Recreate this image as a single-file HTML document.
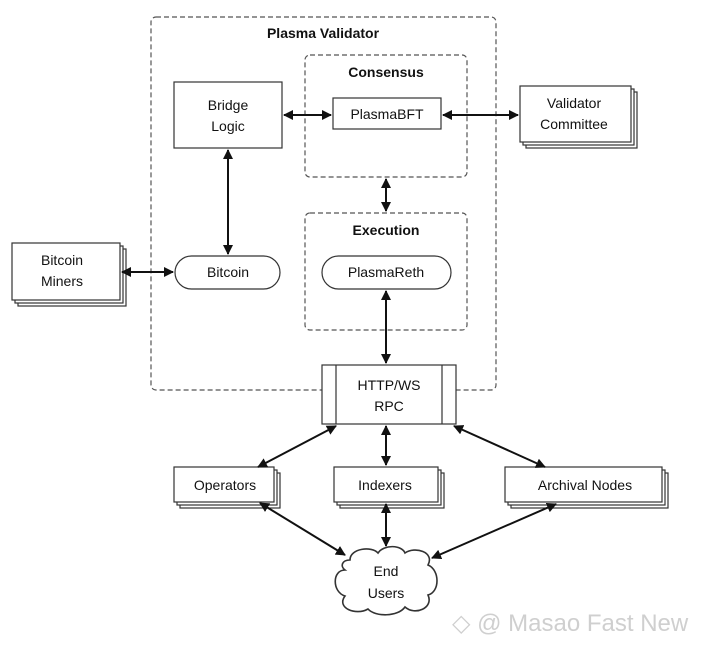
<!DOCTYPE html>
<html><head><style>
body{margin:0;background:#fff;}
svg text{font-family:"Liberation Sans",sans-serif;fill:#111;}
</style></head><body>
<svg width="703" height="644" viewBox="0 0 703 644" xmlns="http://www.w3.org/2000/svg">
<defs>
<marker id="a" viewBox="0 0 10 10" refX="9" refY="5" markerWidth="5" markerHeight="5" orient="auto-start-reverse"><path d="M0,0 L10,5 L0,10 z" fill="#111"/></marker>
</defs>
<g fill="none" stroke="#555" stroke-width="1.2" stroke-dasharray="5,3">
<rect x="151" y="17" width="345" height="373" rx="5"/>
<rect x="305" y="55" width="162" height="122" rx="5"/>
<rect x="305" y="213" width="162" height="117" rx="5"/>
</g>
<g font-weight="bold" font-size="14" text-anchor="middle">
<text x="323" y="38">Plasma Validator</text>
<text x="386" y="77">Consensus</text>
<text x="386" y="235">Execution</text>
</g>
<g stroke="#333" stroke-width="1.2" fill="#fff">
<rect x="526" y="92" width="111" height="56"/><rect x="523" y="89" width="111" height="56"/><rect x="520" y="86" width="111" height="56"/>
<rect x="18" y="249" width="108" height="57"/><rect x="15" y="246" width="108" height="57"/><rect x="12" y="243" width="108" height="57"/>
<rect x="180" y="473" width="100" height="35"/><rect x="177" y="470" width="100" height="35"/><rect x="174" y="467" width="100" height="35"/>
<rect x="340" y="473" width="104" height="35"/><rect x="337" y="470" width="104" height="35"/><rect x="334" y="467" width="104" height="35"/>
<rect x="511" y="473" width="157" height="35"/><rect x="508" y="470" width="157" height="35"/><rect x="505" y="467" width="157" height="35"/>
<rect x="174" y="82" width="108" height="66"/>
<rect x="333" y="98" width="108" height="31"/>
<rect x="175" y="256" width="105" height="33" rx="16.5"/>
<rect x="322" y="256" width="129" height="33" rx="16.5"/>
<rect x="322" y="365" width="134" height="59"/>
<line x1="336" y1="365" x2="336" y2="424"/><line x1="442" y1="365" x2="442" y2="424"/>
<path stroke-width="1.6" d="M350,560 C350,548 372,546 378,553 C384,544 402,545 405,553 C415,546 435,552 428,565 C440,570 440,592 428,595 C434,608 415,616 405,607 C398,617 375,617 368,609 C356,616 336,608 345,596 C332,592 332,570 345,570 C340,566 342,560 350,560 Z"/>
</g>
<g font-size="14" text-anchor="middle">
<text x="228" y="110">Bridge</text><text x="228" y="131">Logic</text>
<text x="387" y="119">PlasmaBFT</text>
<text x="574" y="108">Validator</text><text x="574" y="129">Committee</text>
<text x="62" y="265">Bitcoin</text><text x="62" y="286">Miners</text>
<text x="228" y="277">Bitcoin</text>
<text x="386" y="277">PlasmaReth</text>
<text x="389" y="390">HTTP/WS</text><text x="389" y="411">RPC</text>
<text x="225" y="490">Operators</text>
<text x="385" y="490">Indexers</text>
<text x="585" y="490">Archival Nodes</text>
<text x="386" y="576">End</text><text x="386" y="598">Users</text>
</g>
<g stroke="#111" stroke-width="2" marker-start="url(#a)" marker-end="url(#a)">
<line x1="284" y1="115" x2="331" y2="115"/>
<line x1="443" y1="115" x2="518" y2="115"/>
<line x1="228" y1="150" x2="228" y2="254"/>
<line x1="122" y1="272" x2="173" y2="272"/>
<line x1="386" y1="179" x2="386" y2="211"/>
<line x1="386" y1="291" x2="386" y2="363"/>
<line x1="336" y1="426" x2="258" y2="467"/>
<line x1="386" y1="426" x2="386" y2="465"/>
<line x1="454" y1="426" x2="545" y2="467"/>
<line x1="260" y1="503" x2="345" y2="555"/>
<line x1="386" y1="504" x2="386" y2="546"/>
<line x1="556" y1="504" x2="432" y2="558"/>
</g>
<text x="452" y="631" font-size="24" style="fill:#cfcfcf">◇ @ Masao Fast New</text>
</svg>
</body></html>
